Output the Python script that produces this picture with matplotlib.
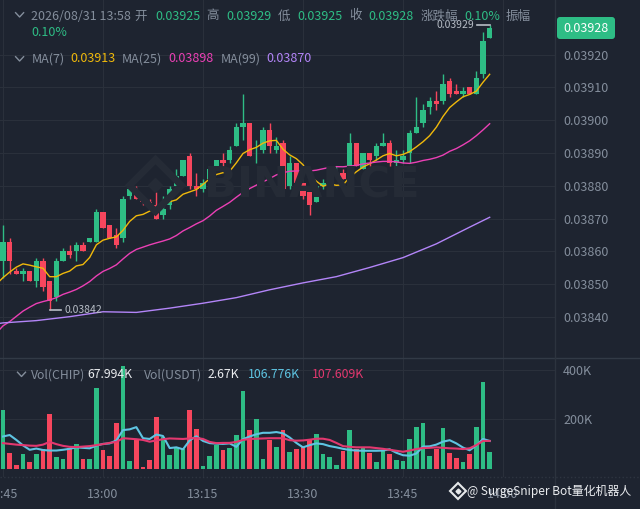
import numpy as np
import matplotlib
matplotlib.use("Agg")
import matplotlib.pyplot as plt
from matplotlib.lines import Line2D
from matplotlib.patches import FancyBboxPatch
from matplotlib.transforms import IdentityTransform

plt.rcParams['font.family'] = ['Noto Sans CJK SC', 'DejaVu Sans']

W, H = 640, 509
BG = '#1e2430'
GRID = '#2a303b'
GREY = '#848e9c'
GREEN = '#2ebd85'
RED = '#f6465d'

# 1 minute candles, 12:45 -> 13:58
tick_idx = [0, 15, 30, 45, 60, 75]
tick_lab = ["12:45", "13:00", "13:15", "13:30", "13:45", "14:00"]

opens = [0.03857, 0.03863, 0.03854, 0.03853, 0.03854, 0.03851, 0.03857, 0.03851, 0.03846, 0.03857,
         0.03860, 0.03860, 0.03862, 0.03863, 0.03863, 0.03872, 0.03868, 0.03865, 0.03864, 0.03877,
         0.03878, 0.03876, 0.03875, 0.03874, 0.03871, 0.03874, 0.03880, 0.03883, 0.03889, 0.03880,
         0.03879, 0.03882, 0.03886, 0.03888, 0.03888, 0.03892, 0.03898, 0.03899, 0.03890, 0.03891,
         0.03897, 0.03891, 0.03893, 0.03880, 0.03887, 0.03881, 0.03878, 0.03875, 0.03880, 0.03880,
         0.03884, 0.03884, 0.03883, 0.03893, 0.03885, 0.03890, 0.03889, 0.03892, 0.03893, 0.03887,
         0.03888, 0.03890, 0.03896, 0.03899, 0.03904, 0.03906, 0.03906, 0.03912, 0.03909, 0.03908,
         0.03910, 0.03908, 0.03914, 0.03925]
highs = [0.03868, 0.03864, 0.03855, 0.03855, 0.03854, 0.03858, 0.03858, 0.03851, 0.03858, 0.03861,
         0.03862, 0.03863, 0.03863, 0.03864, 0.03873, 0.03872, 0.03868, 0.03867, 0.03877, 0.03880,
         0.03880, 0.03877, 0.03876, 0.03878, 0.03877, 0.03880, 0.03885, 0.03888, 0.03890, 0.03884,
         0.03882, 0.03886, 0.03888, 0.03890, 0.03892, 0.03899, 0.03908, 0.03899, 0.03894, 0.03898,
         0.03899, 0.03895, 0.03894, 0.03889, 0.03887, 0.03881, 0.03878, 0.03880, 0.03882, 0.03885,
         0.03886, 0.03885, 0.03896, 0.03893, 0.03890, 0.03890, 0.03893, 0.03896, 0.03894, 0.03891,
         0.03891, 0.03897, 0.03907, 0.03905, 0.03907, 0.03909, 0.03914, 0.03913, 0.03911, 0.03910,
         0.03910, 0.03915, 0.03927, 0.03929]
lows = [0.03852, 0.03853, 0.03853, 0.03851, 0.03851, 0.03849, 0.03848, 0.03842, 0.03845, 0.03857,
        0.03858, 0.03857, 0.03860, 0.03863, 0.03863, 0.03867, 0.03864, 0.03861, 0.03863, 0.03876,
        0.03876, 0.03874, 0.03874, 0.03870, 0.03870, 0.03873, 0.03880, 0.03883, 0.03879, 0.03877,
        0.03878, 0.03882, 0.03885, 0.03886, 0.03887, 0.03892, 0.03894, 0.03889, 0.03887, 0.03890,
        0.03890, 0.03890, 0.03877, 0.03879, 0.03881, 0.03876, 0.03871, 0.03875, 0.03879, 0.03880,
        0.03883, 0.03882, 0.03882, 0.03886, 0.03885, 0.03886, 0.03888, 0.03892, 0.03886, 0.03886,
        0.03887, 0.03887, 0.03896, 0.03898, 0.03902, 0.03903, 0.03905, 0.03907, 0.03908, 0.03907,
        0.03908, 0.03908, 0.03913, 0.03925]
closes = [0.03863, 0.03857, 0.03853, 0.03854, 0.03851, 0.03857, 0.03849, 0.03845, 0.03857, 0.03860,
          0.03859, 0.03862, 0.03860, 0.03864, 0.03872, 0.03867, 0.03864, 0.03862, 0.03876, 0.03879,
          0.03876, 0.03875, 0.03874, 0.03870, 0.03873, 0.03879, 0.03883, 0.03888, 0.03880, 0.03879,
          0.03881, 0.03885, 0.03888, 0.03887, 0.03891, 0.03898, 0.03899, 0.03889, 0.03890, 0.03897,
          0.03892, 0.03892, 0.03879, 0.03887, 0.03881, 0.03877, 0.03874, 0.03880, 0.03881, 0.03884,
          0.03884, 0.03882, 0.03893, 0.03886, 0.03890, 0.03888, 0.03892, 0.03893, 0.03887, 0.03888,
          0.03889, 0.03896, 0.03898, 0.03903, 0.03906, 0.03905, 0.03911, 0.03908, 0.03908, 0.03909,
          0.03908, 0.03913, 0.03924, 0.03928]

# volume in K (CHIP)
vols_k = [238, 64, 16, 58, 27, 58, 78, 222, 47, 37, 82, 99, 38, 38, 326, 75, 50, 186, 415, 30,
          115, 7, 34, 211, 129, 54, 82, 78, 238, 160, 11, 50, 95, 75, 84, 136, 315, 156, 200, 37,
          115, 88, 156, 68, 78, 86, 115, 140, 57, 47, 14, 72, 156, 78, 82, 64, 27, 75, 58, 34,
          30, 120, 167, 186, 50, 78, 163, 64, 43, 27, 57, 167, 351, 68]
vol_ma_cyan_k = [130, 136, 116, 94, 76, 81, 75, 73, 73, 76, 80, 86, 84, 82, 93, 100, 102, 114, 156, 159,
                 168, 123, 120, 138, 132, 83, 86, 78, 114, 131, 112, 103, 101, 100, 102, 88, 119, 130, 139, 145,
                 145, 148, 143, 126, 104, 86, 95, 102, 99, 91, 86, 80, 75, 73, 72, 72, 72, 73, 78, 64,
                 54, 52, 61, 89, 90, 97, 109, 115, 102, 85, 74, 94, 120, 112]
vol_ma_pink_k = [103, 100, 97, 95, 93, 92, 97, 108, 99, 92, 88, 87, 89, 91, 95, 99, 104, 108, 123, 121,
                 119, 116, 109, 114, 119, 122, 121, 120, 122, 124, 120, 108, 103, 104, 104, 108, 116, 120, 121, 122,
                 123, 123, 123, 115, 113, 114, 117, 121, 121, 116, 104, 91, 88, 86, 86, 86, 83, 80, 76, 72,
                 68, 73, 79, 83, 84, 86, 84, 82, 81, 79, 82, 95, 112, 112]

# moving averages before enough visible candles exist, index -1..
ma7_head = [0.038500, 0.038520, 0.038537, 0.038552, 0.038562, 0.038558, 0.038553]
ma25_head = [0.038351, 0.038373, 0.038386, 0.038402, 0.038418, 0.038430, 0.038441, 0.038447, 0.038452,
             0.038459, 0.038469, 0.038476, 0.038484, 0.038495, 0.038508, 0.038525, 0.038539, 0.038548,
             0.038559, 0.038577, 0.038594, 0.038606, 0.038613, 0.038620, 0.038626]
ma99_idx = [-1, 0, 5, 10, 15, 20, 25, 30, 35, 40, 45, 50, 55, 60, 65, 70, 73]
ma99_val = [0.038379, 0.038382, 0.038389, 0.038401, 0.038416, 0.038414, 0.038427, 0.038442, 0.038459,
            0.038483, 0.038504, 0.038523, 0.038551, 0.038581, 0.038623, 0.038674, 0.038704]
ma_legend = ["0.03913", "0.03898", "0.03870"]
vol_legend = ["67.994K", "2.67K", "106.776K", "107.609K"]

o = np.array(opens); hi = np.array(highs); lo = np.array(lows); c = np.array(closes)
n = len(c)
x = np.arange(n)
cols = np.where(c >= o, GREEN, RED)

ma7 = list(ma7_head) + [c[i - 6:i + 1].mean() for i in range(6, n)]
ma25 = list(ma25_head) + [c[i - 24:i + 1].mean() for i in range(24, n)]
xma = np.arange(-1, n)

fig = plt.figure(figsize=(W / 100, H / 100), dpi=100, facecolor=BG)


def fx(px):
    return px / W


def fy(py):
    return 1 - py / H


ax = fig.add_axes([0, fy(357.7), fx(555), 357.7 / H])
axv = fig.add_axes([0, fy(477), fx(555), (477 - 357.7) / H])

for a in (ax, axv):
    a.set_facecolor(BG)
    for s in a.spines.values():
        s.set_visible(False)
    a.set_xlim(-0.45, 82.8)
    a.set_xticks(tick_idx)
    a.grid(True, color=GRID, lw=0.8)
    a.set_axisbelow(True)
    a.yaxis.tick_right()
    a.tick_params(length=0, colors=GREY, labelsize=9, pad=5.8)

# price panel
p0 = 0.03840
ax.set_ylim(p0 - 12.41e-5, p0 + 96.65e-5)
ax.set_yticks([0.03840 + k * 0.0001 for k in range(9)])
ax.set_yticklabels(["%.5f" % (0.03840 + k * 0.0001) for k in range(9)])
ax.set_xticklabels([])

# watermark
fig.text(fx(312), fy(186), "BINANCE", color='#252b36', fontsize=31, fontweight='bold',
         ha='center', va='center', family='DejaVu Sans')
fig.add_artist(Line2D([fx(155)], [fy(185)], marker='D', ms=26, mfc='none', mec='#252b36', mew=5,
                      transform=fig.transFigure))
fig.add_artist(Line2D([fx(155)], [fy(185)], marker='D', ms=7, color='#252b36',
                      transform=fig.transFigure))

ax.vlines(x, lo, hi, colors=cols, lw=1)
ax.bar(x, np.maximum(np.abs(c - o), 3e-7), bottom=np.minimum(o, c), width=0.78, color=cols, lw=0)

ax.plot(xma, ma7, color='#f0b90b', lw=1)
ax.plot(xma, ma25, color='#eb40b5', lw=1)
ax.plot(ma99_idx, ma99_val, color='#b385f8', lw=1)

# high / low markers
imax = int(np.argmax(hi))
imin = int(np.argmin(lo))
ax.plot([imax - 1.95, imax], [hi[imax], hi[imax]], color='#b7bdc6', lw=1.2)
ax.text(imax - 2.3, hi[imax], "%.5f" % hi[imax], color='#b7bdc6', fontsize=7.5, ha='right', va='center')
ax.plot([imin, imin + 1.7], [lo[imin], lo[imin]], color='#b7bdc6', lw=1.2)
ax.text(imin + 2.25, lo[imin], "%.5f" % lo[imin], color='#b7bdc6', fontsize=7.5, ha='left', va='center')

# volume panel
vols = np.array(vols_k) * 1000
axv.set_ylim(-34.5e3, 450e3)
axv.set_yticks([200e3, 400e3])
axv.set_yticklabels(["200K", "400K"])
axv.set_xticklabels(tick_lab)
axv.tick_params(axis='x', pad=8)
axv.bar(x, vols, width=0.72, color=cols, lw=0)
axv.plot(x, np.array(vol_ma_cyan_k) * 1000, color='#5ec4e2', lw=1.5)
axv.plot(x, np.array(vol_ma_pink_k) * 1000, color='#e3386f', lw=1.5)

# frame lines
fig.add_artist(Line2D([0, 1], [fy(357.7), fy(357.7)], color='#323a46', lw=1, transform=fig.transFigure))
fig.add_artist(Line2D([fx(555), fx(555)], [0, 1], color='#2c333e', lw=1, transform=fig.transFigure))
fig.add_artist(Line2D([0, 1], [fy(477), fy(477)], color='#2e3541', lw=1, ls=':', transform=fig.transFigure))


def chevron(px, py):
    fig.add_artist(Line2D([fx(px - 4), fx(px), fx(px + 4)], [fy(py - 2.3), fy(py + 2), fy(py - 2.3)],
                          color=GREY, lw=1, transform=fig.transFigure))


def txt(px, py, s, color=GREY, size=9, ha='left'):
    fig.text(fx(px), fy(py), s, color=color, fontsize=size, ha=ha, va='center')


# header
chg = (c[-1] - c[-2]) / c[-2] * 100
amp = (hi[-1] - lo[-1]) / c[-2] * 100
chevron(19.6, 15)
txt(31, 16, "2026/08/31 13:58")
txt(134.7, 16, "开")
txt(155, 16, "%.5f" % o[-1], GREEN)
txt(206, 16, "高")
txt(226.5, 16, "%.5f" % hi[-1], GREEN)
txt(277.6, 16, "低")
txt(297, 16, "%.5f" % lo[-1], GREEN)
txt(349, 16, "收")
txt(368.6, 16, "%.5f" % c[-1], GREEN)
txt(420.4, 16, "涨跌幅")
txt(464, 16, "%.2f%%" % chg, GREEN)
txt(506, 16, "振幅")
txt(31, 32.7, "%.2f%%" % amp, GREEN)

chevron(19.6, 59)
txt(31.4, 59, "MA(7)")
txt(70.6, 59, ma_legend[0], '#f0b90b')
txt(121.6, 59, "MA(25)")
txt(168.6, 59, ma_legend[1], '#eb40b5')
txt(220.4, 59, "MA(99)")
txt(266.5, 59, ma_legend[2], '#b385f8')

chevron(21.5, 374.5)
txt(31, 375, "Vol(CHIP)", size=8.8)
txt(87.5, 375, vol_legend[0], '#eaecef', 8.8)
txt(144, 375, "Vol(USDT)", size=8.8)
txt(208, 375, vol_legend[1], '#eaecef', 8.8)
txt(248, 375, vol_legend[2], '#5ec4e2', 8.8)
txt(311.7, 375, vol_legend[3], '#e3386f', 8.8)

# last price tag
box = FancyBboxPatch((557, H - 39), 58, 22, boxstyle="round,pad=0,rounding_size=3",
                     fc=GREEN, ec='none', transform=IdentityTransform())
fig.add_artist(box)
txt(586, 28, "%.5f" % c[-1], 'white', 9, 'center')

# footer watermark
fig.add_artist(Line2D([fx(458)], [fy(491)], marker='D', ms=8, mfc='none', mec='#e6e8ea', mew=1.5,
                      transform=fig.transFigure))
fig.add_artist(Line2D([fx(458)], [fy(491)], marker='D', ms=2.5, color='#e6e8ea', transform=fig.transFigure))
txt(467, 491, "@ SurgeSniper Bot量化机器人", '#eaecef', 8.6)

fig.savefig("out.png", dpi=100, facecolor=BG)
